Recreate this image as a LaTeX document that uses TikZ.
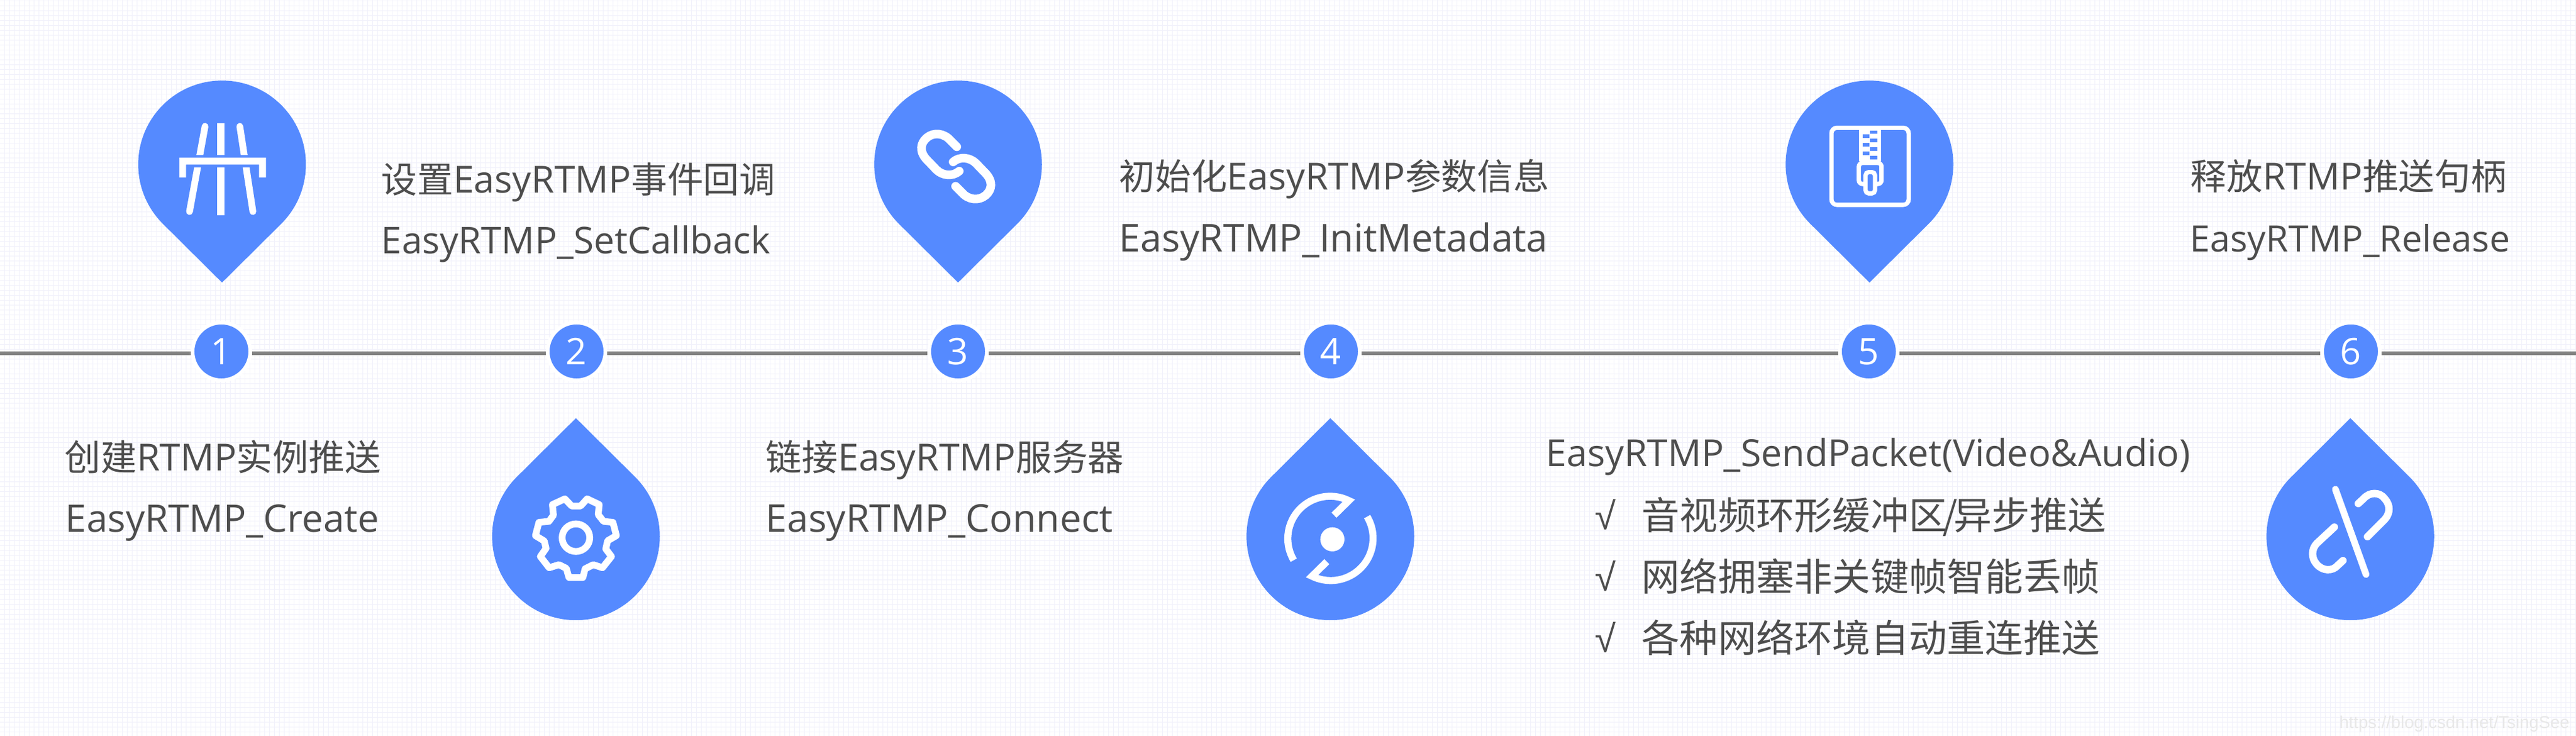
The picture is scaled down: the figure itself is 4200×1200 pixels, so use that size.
\documentclass[tikz,border=0pt]{standalone}
\usepackage{fontspec}
\setmainfont{Open Sans}
\newfontfamily\cjk{Noto Sans CJK SC}
\newfontfamily\markfont{Liberation Sans}
\newcommand{\zh}[1]{{\cjk\fontsize{16.7}{16.7}\selectfont #1}}
\definecolor{pinblue}{HTML}{558AFF}
\definecolor{txtgray}{HTML}{4D4D4D}
\definecolor{gridblue}{HTML}{F1F1FB}
\definecolor{linegray}{HTML}{808080}
\tikzset{
	gridline/.style={gridblue, line width=.01cm},
	timeline/.style={linegray, line width=.06cm},
	stepnum/.style={circle, fill=pinblue, draw=white, line width=.06cm, minimum size=.94cm, inner sep=0pt, text=white, font=\fontsize{17}{17}\selectfont},
	lbl/.style={anchor=base west, inner sep=0pt, text=txtgray, font=\fontsize{17.3}{17.3}\selectfont},
	lat/.style={anchor=base west, inner sep=0pt, text=txtgray, font=\fontsize{#1}{#1}\selectfont},
	bullet/.style={anchor=base west, inner sep=0pt, text=txtgray, font=\cjk\fontsize{17.7}{17.7}\selectfont},
	tick/.style={anchor=base west, inner sep=0pt, text=txtgray, font=\markfont\fontsize{17.7}{17.7}\selectfont},
	icon/.style={white, line width=.11cm},
	roundicon/.style={icon, line width=.14cm, line cap=round, line join=round}
}
\newcommand{\pinup}[2]{\fill[pinblue] (#1,#2+192.7) -- (#1+96.7,#2+96.7) arc[start angle=45, end angle=-225, radius=136.7] -- cycle;}
\newcommand{\pindown}[2]{\fill[pinblue] (#1,#2-192.7) -- (#1+96.7,#2-96.7) arc[start angle=-45, end angle=225, radius=136.7] -- cycle;}
\begin{document}
\begin{tikzpicture}[x=.01cm, y=-.01cm]
	\useasboundingbox (0,0) rectangle (4200,1200);
	% background grid
	\foreach \gx in {7.5,15.5,...,4200} \draw[gridline] (\gx,0) -- (\gx,1200);
	\foreach \gy in {1.5,9.5,...,1200} \draw[gridline] (0,\gy) -- (4200,\gy);

	% time line
	\node[stepnum] (n1) at (361,573) {1};
	\node[stepnum] (n2) at (940,573) {2};
	\node[stepnum] (n3) at (1562,573) {3};
	\node[stepnum] (n4) at (2170,573) {4};
	\node[stepnum] (n5) at (3047,573) {5};
	\node[stepnum] (n6) at (3833,573) {6};
	\coordinate (lineL) at (0,576);
	\coordinate (lineR) at (4200,576);
	\draw[timeline] (lineL) -- ([yshift=-.03cm]n1.west);
	\draw[timeline] ([yshift=-.03cm]n1.east) -- ([yshift=-.03cm]n2.west);
	\draw[timeline] ([yshift=-.03cm]n2.east) -- ([yshift=-.03cm]n3.west);
	\draw[timeline] ([yshift=-.03cm]n3.east) -- ([yshift=-.03cm]n4.west);
	\draw[timeline] ([yshift=-.03cm]n4.east) -- ([yshift=-.03cm]n5.west);
	\draw[timeline] ([yshift=-.03cm]n5.east) -- ([yshift=-.03cm]n6.west);
	\draw[timeline] ([yshift=-.03cm]n6.east) -- (lineR);

	% pins
	\pinup{362}{268}
	\pinup{1562}{268}
	\pinup{3048}{268}
	\pindown{939}{874.5}
	\pindown{2169}{874.5}
	\pindown{3832}{874.5}

	% road
	\begin{scope}[shift={(150,100)}, scale=1/3]
		\draw[icon, line cap=round] (553,318) -- (477,735);
		\draw[icon, line cap=round] (723,318) -- (787,735);
		\draw[icon] (630,302) -- (630,752);
		\fill[pinblue] (427,458) rectangle (851,520);
		\fill[white] (427,471) -- (851,471) -- (851,568) -- (817,568) -- (817,505) -- (460,505) -- (460,568) -- (427,568) -- cycle;
	\end{scope}

	% gear
	\begin{scope}[shift={(750,620)}, scale=1/3]
		\draw[icon, line join=round] (513,580) -- (546,615) -- (590,615) -- (622,580) -- (681,608) -- (676,657) -- (702,690) -- (748,695) -- (765,760) -- (722,785) -- (713,825) -- (741,862) -- (697,917) -- (652,902) -- (612,922) -- (601,965) -- (533,965) -- (520,920) -- (484,902) -- (436,917) -- (393,862) -- (421,822) -- (412,786) -- (369,760) -- (386,695) -- (435,690) -- (457,660) -- (452,608) -- cycle;
		\draw[icon] (567,770) circle[radius=67.5];
	\end{scope}

	% chain
	\begin{scope}[shift={(1370,100)}, scale=1/3]
		\draw[roundicon] (570,418) -- (528,376) .. controls (490,345) and (440,350) .. (412,385) .. controls (388,415) and (395,450) .. (420,478) -- (470,530) .. controls (500,560) and (550,565) .. (582,537);
		\draw[roundicon] (564,611) -- (606,653) .. controls (644,684) and (694,679) .. (722,644) .. controls (746,614) and (739,579) .. (714,551) -- (664,499) .. controls (634,469) and (584,464) .. (552,492);
	\end{scope}

	% sync
	\begin{scope}[shift={(1990,620)}, scale=1/3]
		\draw[icon, line width=.115cm] (358,880) arc[start angle=149.3, end angle=296.3, radius=207] -- (555,660);
		\draw[icon, line width=.115cm] (717,667) arc[start angle=329.3, end angle=476.3, radius=207] -- (520,887);
		\fill[white] (547,778) circle[radius=59];
	\end{scope}

	% zip file
	\begin{scope}[shift={(2830,100)}, scale=1/3]
		\draw[icon, line width=.07cm, rounded corners=.09cm] (468,325) rectangle (846,702);
		\fill[white] (602,325) rectangle (712,490);
		\foreach \ty in {338,378,420,462} \fill[pinblue] (658,\ty) rectangle (694,\ty+17);
		\foreach \ty in {358,400,442} \fill[pinblue] (622,\ty) rectangle (655,\ty+17);
		\draw[icon, line width=.07cm, fill=pinblue, rounded corners=.06cm] (602,497) rectangle (713,600);
		\draw[icon, line width=.07cm, fill=pinblue, rounded corners=.05cm] (635,542) rectangle (681,646);
	\end{scope}

	% broken link
	\begin{scope}[shift={(3640,620)}, scale=1/3]
		\draw[roundicon, line width=.11cm] (503,533) -- (653,950);
		\draw[roundicon, line width=.12cm] (615,603) -- (640,580) .. controls (670,545) and (720,545) .. (745,580) .. controls (772,610) and (772,650) .. (745,680) -- (660,765);
		\draw[roundicon, line width=.12cm] (498,718) -- (412,798) .. controls (385,825) and (385,870) .. (410,898) .. controls (440,935) and (490,935) .. (515,905) -- (540,882);
	\end{scope}

	% labels
	\node[lbl] (t1a) at (105,767) {\zh{创建}RTMP\zh{实例推送}};
	\node[lat=17.6] (t1b) at (106,867) {EasyRTMP\_Create};
	\node[lbl] (t2a) at (621,314) {\zh{设置}EasyRTMP\zh{事件回调}};
	\node[lat=17.1] (t2b) at (621,413) {EasyRTMP\_SetCallback};
	\node[lbl] (t3a) at (1248,767) {\zh{链接}EasyRTMP\zh{服务器}};
	\node[lat=17.75] (t3b) at (1248,867) {EasyRTMP\_Connect};
	\node[lbl] (t4a) at (1824,309) {\zh{初始化}EasyRTMP\zh{参数信息}};
	\node[lat=17.8] (t4b) at (1824,410) {EasyRTMP\_InitMetadata};
	\node[lat=17.3] (t5a) at (2520,760) {EasyRTMP\_SendPacket(Video\&Audio)};
	\node[tick] (t5b) at (2600,863) {√};
	\node[bullet] (t5c) at (2676,863) {音视频环形缓冲区\kern-.07cm/\kern-.07cm异步推送};
	\node[tick] (t5d) at (2600,963) {√};
	\node[bullet] (t5e) at (2676,963) {网络拥塞非关键帧智能丢帧};
	\node[tick] (t5f) at (2600,1063) {√};
	\node[bullet] (t5g) at (2676,1063) {各种网络环境自动重连推送};
	\node[lbl] (t6a) at (3571,309) {\zh{释放}RTMP\zh{推送句柄}};
	\node[lat=16.85] (t6b) at (3570,410) {EasyRTMP\_Release};
	\node[anchor=base east, inner sep=0pt, text=black!9, font=\markfont\fontsize{8}{8}\selectfont] (wm) at (4190,1187) {https://blog.csdn.net/TsingSee};
\end{tikzpicture}
\end{document}
